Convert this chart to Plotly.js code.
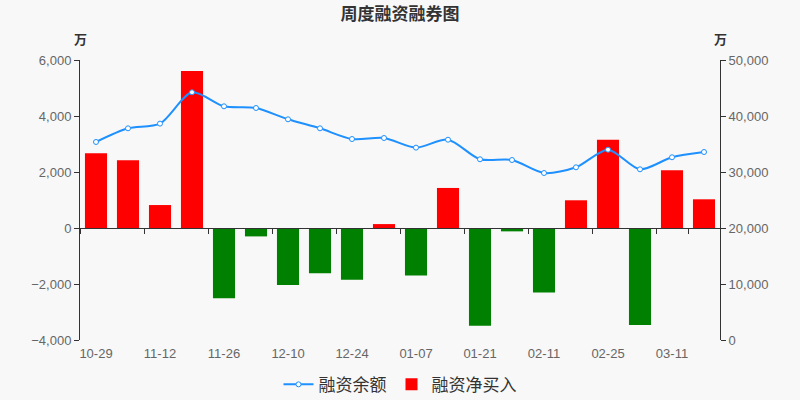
<!DOCTYPE html>
<html>
<head>
<meta charset="utf-8">
<script src="https://cdn.plot.ly/plotly-3.0.1.min.js"></script>
<style>html,body{margin:0;padding:0;background:#f8f8f8;}#chart{width:800px;height:400px;}</style>
</head>
<body>
<div id="chart"></div>
<script>
var dates = ["10-29","11-05","11-12","11-19","11-26","12-03","12-10","12-17","12-24","12-31","01-07","01-14","01-21","01-28","02-11","02-18","02-25","03-04","03-11","03-18"];
var tickLabels = ["10-29","11-12","11-26","12-10","12-24","01-07","01-21","02-11","02-25","03-11"];
var netBuy = [2670, 2420, 820, 5610, -2510, -300, -2040, -1620, -1850, 140, -1700, 1430, -3490, -120, -2300, 990, 3155, -3465, 2060, 1025];
var balance = [35360, 37800, 38640, 44230, 41730, 41430, 39410, 37800, 35890, 36070, 34350, 35770, 32270, 32140, 29820, 30840, 33990, 30480, 32630, 33570];

var barColors = netBuy.map(function(v){ return v >= 0 ? "#ff0000" : "#008000"; });
var cjk = "'Noto Sans CJK SC', 'Noto Sans', sans-serif";
var latin = "'Liberation Sans', Arial, sans-serif";

var traces = [
  {
    type: "bar", name: "融资净买入", x: dates, y: netBuy,
    marker: {color: barColors}, xaxis: "x", yaxis: "y",
    hoverinfo: "x+y"
  },
  {
    type: "scatter", mode: "lines+markers", name: "融资余额", x: dates, y: balance,
    line: {color: "#1e90ff", width: 2, shape: "spline", smoothing: 0.8},
    marker: {symbol: "circle", size: 5, color: "#ffffff", line: {color: "#1e90ff", width: 1}},
    xaxis: "x", yaxis: "y2"
  },
  {
    type: "scatter", mode: "markers", x: dates, y: netBuy.map(function(){return 0;}),
    xaxis: "x2", yaxis: "y", marker: {opacity: 0}, showlegend: false, hoverinfo: "skip"
  }
];

var layout = {
  width: 800, height: 400,
  paper_bgcolor: "#f8f8f8", plot_bgcolor: "#f8f8f8",
  margin: {l: 80, r: 80, t: 60, b: 60},
  font: {family: latin, size: 13, color: "#666"},
  title: {text: "周度融资融券图", x: 0.5, xanchor: "center", y: 0.965, yanchor: "middle",
          font: {family: cjk, size: 17, color: "#333", weight: "bold"}},
  bargap: 0.31,
  showlegend: true,
  legend: {orientation: "h", x: 0.5, xanchor: "center", xref: "container",
           y: 0.038, yanchor: "middle", yref: "container",
           font: {family: cjk, size: 17, color: "#333"}, traceorder: "reversed", itemwidth: 30},
  xaxis: {
    type: "category", categoryorder: "array", categoryarray: dates,
    tickmode: "array", tickvals: tickLabels, ticktext: tickLabels,
    showline: false, ticks: "", showgrid: false, zeroline: false,
    ticklabelstandoff: 4,
    tickfont: {family: latin, size: 13, color: "#666"}, range: [-0.5, 19.5]
  },
  xaxis2: {
    type: "category", categoryorder: "array", categoryarray: dates,
    overlaying: "x", anchor: "free", position: 0.4, side: "bottom",
    tickmode: "array", tickvals: tickLabels, showticklabels: false,
    tickson: "boundaries", ticks: "outside", ticklen: 5, tickcolor: "#333",
    showline: true, linecolor: "#333", linewidth: 1, showgrid: false, zeroline: false,
    range: [-0.5, 19.5]
  },
  yaxis: {
    range: [-4000, 6000], tickmode: "linear", tick0: -4000, dtick: 2000,
    tickformat: ",", showgrid: false, zeroline: false,
    showline: true, linecolor: "#333", linewidth: 1,
    ticks: "outside", ticklen: 5, tickcolor: "#333",
    tickfont: {family: latin, size: 13, color: "#666"}
  },
  yaxis2: {
    range: [0, 50000], tickmode: "linear", tick0: 0, dtick: 10000,
    tickformat: ",", overlaying: "y", side: "right", showgrid: false, zeroline: false,
    showline: true, linecolor: "#333", linewidth: 1,
    ticks: "outside", ticklen: 5, tickcolor: "#333",
    tickfont: {family: latin, size: 13, color: "#666"}
  },
  annotations: [
    {text: "万", xref: "paper", yref: "paper", x: 0, y: 1.078, xanchor: "center", yanchor: "middle",
     showarrow: false, font: {family: cjk, size: 13, color: "#333", weight: "bold"}},
    {text: "万", xref: "paper", yref: "paper", x: 1, y: 1.078, xanchor: "center", yanchor: "middle",
     showarrow: false, font: {family: cjk, size: 13, color: "#333", weight: "bold"}}
  ]
};

Plotly.newPlot("chart", traces, layout, {displayModeBar: false, staticPlot: true});
</script>
</body>
</html>
